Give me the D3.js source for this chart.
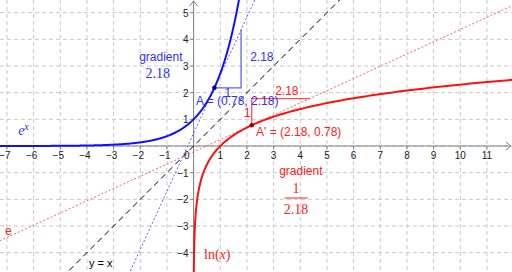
<!DOCTYPE html>
<html>
<head>
<meta charset="utf-8">
<script src="https://cdn.jsdelivr.net/npm/d3@7"></script>
<style>
  body { margin: 0; background: #fff; }
  svg { display: block; font-family: "Liberation Sans", Arial, sans-serif; }
  .tex { font-family: "Liberation Serif", "Times New Roman", serif; }
</style>
</head>
<body>
<div id="chart"></div>
<script>
// view window (graph units)
var xDomain = [-7.26, 11.94],
    yDomain = [-4.725, 5.475];
var xTicks = [-7, -6, -5, -4, -3, -2, -1, 1, 2, 3, 4, 5, 6, 7, 8, 9, 10, 11],
    yTicks = [-4, -3, -2, -1, 1, 2, 3, 4, 5];
// point on e^x and its reflection on ln(x)
var pointA = [0.78, 2.18],
    pointA2 = [2.18, 0.78],
    gradient = 2.18;

var w = 512, h = 272;
var x = d3.scaleLinear().domain(xDomain).range([0, w]),
    y = d3.scaleLinear().domain(yDomain).range([h, 0]);

var svg = d3.select('#chart').append('svg')
  .attr('width', w)
  .attr('height', h);

// grid
var gridX = d3.range(Math.ceil(xDomain[0]), Math.floor(xDomain[1]) + 1),
    gridY = d3.range(Math.ceil(yDomain[0]), Math.floor(yDomain[1]) + 1);
svg.append('g').selectAll('line').data(gridX).enter().append('line')
  .attr('x1', function(d) { return x(d); })
  .attr('x2', function(d) { return x(d); })
  .attr('y1', 0).attr('y2', h)
  .attr('stroke', '#c8c8c8').attr('stroke-dasharray', '4,3');
svg.append('g').selectAll('line').data(gridY).enter().append('line')
  .attr('y1', function(d) { return y(d); })
  .attr('y2', function(d) { return y(d); })
  .attr('x1', 0).attr('x2', w)
  .attr('stroke', '#c8c8c8').attr('stroke-dasharray', '4,3');

// axes
var axisColor = '#808080';
svg.append('line').attr('x1', 0).attr('x2', w - 1)
  .attr('y1', y(0)).attr('y2', y(0)).attr('stroke', axisColor);
svg.append('line').attr('x1', x(0)).attr('x2', x(0))
  .attr('y1', 1).attr('y2', h).attr('stroke', axisColor);
// arrow heads
svg.append('path')
  .attr('d', 'M' + (w - 6) + ',' + (y(0) - 4) + 'L' + (w - 1) + ',' + y(0) +
             'L' + (w - 6) + ',' + (y(0) + 4))
  .attr('fill', 'none').attr('stroke', axisColor);
svg.append('path')
  .attr('d', 'M' + (x(0) - 4) + ',6L' + x(0) + ',1L' + (x(0) + 4) + ',6')
  .attr('fill', 'none').attr('stroke', axisColor);

// tick marks + labels
var tickG = svg.append('g').attr('font-size', 10).attr('fill', '#222');
tickG.selectAll('.xt').data(xTicks).enter().append('line')
  .attr('x1', function(d) { return x(d); })
  .attr('x2', function(d) { return x(d); })
  .attr('y1', y(0)).attr('y2', y(0) + 3)
  .attr('stroke', axisColor);
tickG.selectAll('.xl').data(xTicks).enter().append('text')
  .attr('x', function(d) { return x(d) - (d < 0 ? 2 : 0); })
  .attr('y', y(0) + 13)
  .attr('text-anchor', 'middle')
  .text(function(d) { return d < 0 ? '\u2212' + (-d) : d; });
tickG.selectAll('.yt').data(yTicks).enter().append('line')
  .attr('x1', x(0) - 3).attr('x2', x(0))
  .attr('y1', function(d) { return y(d); })
  .attr('y2', function(d) { return y(d); })
  .attr('stroke', axisColor);
tickG.selectAll('.yl').data(yTicks).enter().append('text')
  .attr('x', x(0) - 5)
  .attr('y', function(d) { return y(d) + 4; })
  .attr('text-anchor', 'end')
  .text(function(d) { return d < 0 ? '\u2212' + (-d) : d; });
tickG.append('text').attr('x', x(0) - 4).attr('y', y(0) + 13)
  .attr('text-anchor', 'end').text('0');

var line = d3.line()
  .x(function(d) { return x(d[0]); })
  .y(function(d) { return y(d[1]); });

// y = x
svg.append('path')
  .datum([[yDomain[0] - 1, yDomain[0] - 1], [yDomain[1] + 1, yDomain[1] + 1]])
  .attr('d', line).attr('stroke', '#000').attr('stroke-width', 1)
  .attr('stroke-dasharray', '6,4').attr('fill', 'none');

// tangents
function tangent(p, m) {
  return [[-10, p[1] + m * (-10 - p[0])], [15, p[1] + m * (15 - p[0])]];
}
svg.append('path').datum(tangent(pointA, gradient))
  .attr('d', line).attr('stroke', '#6060ff').attr('stroke-width', 1)
  .attr('stroke-dasharray', '2,2').attr('fill', 'none');
svg.append('path').datum(tangent(pointA2, 1 / gradient))
  .attr('d', line).attr('stroke', '#ff6060').attr('stroke-width', 1)
  .attr('stroke-dasharray', '2,2').attr('fill', 'none');

// curves
var expPts = d3.range(xDomain[0], 1.75, 0.02).map(function(t) { return [t, Math.exp(t)]; });
var lnPts = d3.range(-4.8, 2.6, 0.02).map(function(t) { return [Math.exp(t), t]; });
svg.append('path').datum(expPts).attr('d', line)
  .attr('stroke', '#1010ff').attr('stroke-width', 2).attr('fill', 'none');
svg.append('path').datum(lnPts).attr('d', line)
  .attr('stroke', '#ff1010').attr('stroke-width', 2).attr('fill', 'none');

// slope triangles
var triA = [pointA, [pointA[0] + 1, pointA[1]], [pointA[0] + 1, pointA[1] + gradient]];
var triA2 = [pointA2, [pointA2[0], pointA2[1] + 1], [pointA2[0] + gradient, pointA2[1] + 1]];
svg.append('path').datum(triA).attr('d', line)
  .attr('stroke', '#6060ff').attr('stroke-width', 1.3).attr('fill', 'none');
svg.append('path').datum(triA2).attr('d', line)
  .attr('stroke', '#ff5050').attr('stroke-width', 1.3).attr('fill', 'none');

// points
svg.append('circle').attr('cx', x(pointA[0])).attr('cy', y(pointA[1]))
  .attr('r', 2.3).attr('fill', '#00007a');
svg.append('circle').attr('cx', x(pointA2[0])).attr('cy', y(pointA2[1]))
  .attr('r', 2.3).attr('fill', '#990000');

// labels
var blue = '#3030ff', red = '#ff2020';
function label(px, py, txt, color, size, cls, anchor) {
  return svg.append('text')
    .attr('x', x(px)).attr('y', y(py))
    .attr('fill', color).attr('font-size', size)
    .attr('class', cls || null)
    .attr('text-anchor', anchor || 'start')
    .text(txt);
}
label(-2.04, 3.19, 'gradient', blue, 12);
label(-1.8, 2.55, gradient.toFixed(2), blue, 14, 'tex');
label(2.12, 3.19, gradient.toFixed(2), blue, 12);
label(pointA[0] + 0.5, 1.84, '1', blue, 12, null, 'middle');
label(0.09, 1.55, 'A = (' + pointA[0] + ', ' + pointA[1] + ')', blue, 12);

var ex = label(-6.58, 0.41, 'e', blue, 14, 'tex').attr('font-style', 'italic');
ex.append('tspan').attr('dy', -5).attr('font-size', 10).text('x');

label(3.06, 1.91, gradient.toFixed(2), red, 12);
label(1.89, 1.09, '1', red, 12);
label(2.34, 0.37, "A' = (" + pointA2[0] + ', ' + pointA2[1] + ')', red, 12);
label(3.21, -1.09, 'gradient', red, 12);
label(3.84, -1.76, '1', red, 14, 'tex', 'middle');
svg.append('line').attr('x1', x(3.42)).attr('x2', x(4.28))
  .attr('y1', y(-1.95)).attr('y2', y(-1.95))
  .attr('stroke', red).attr('stroke-width', 1);
label(3.84, -2.55, gradient.toFixed(2), red, 14, 'tex', 'middle');

var lnx = label(0.39, -4.24, 'ln(', red, 14, 'tex');
lnx.append('tspan').attr('font-style', 'italic').text('x');
lnx.append('tspan').text(')');
label(-3.92, -4.54, 'y = x', '#000', 11);
label(-7.07, -3.34, 'e', red, 12);
</script>
</body>
</html>
